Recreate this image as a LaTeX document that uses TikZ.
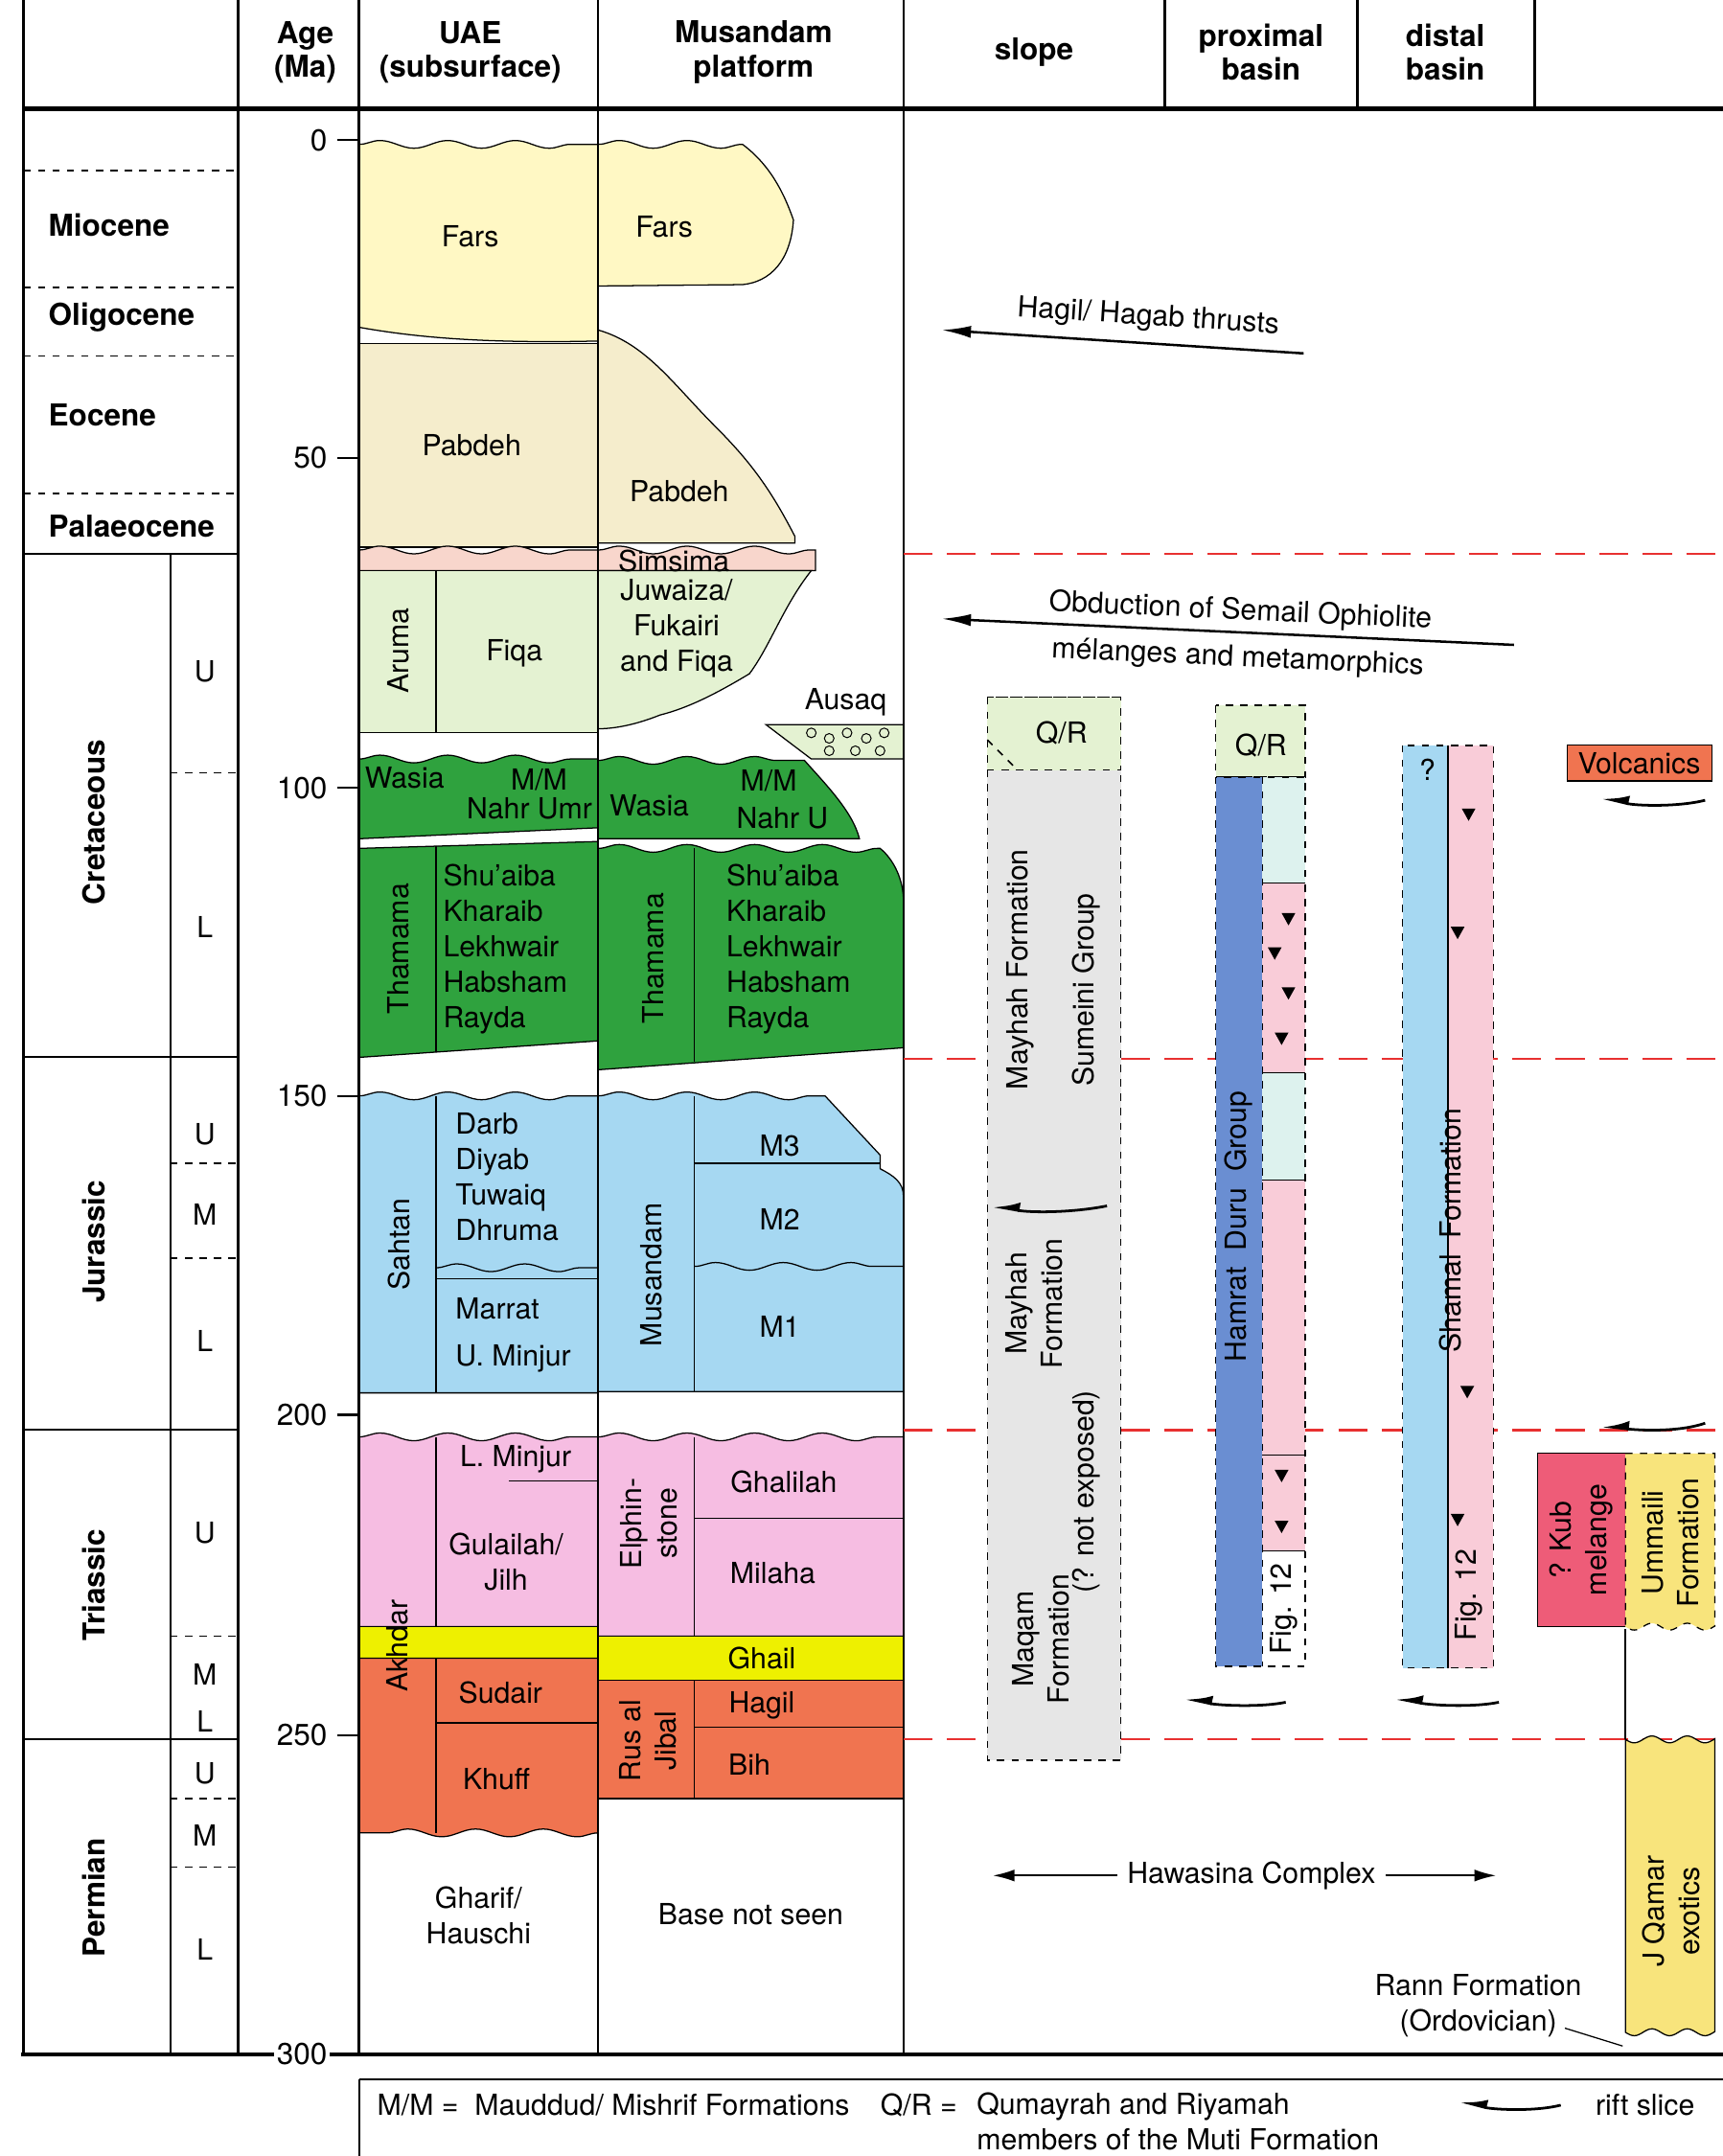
\documentclass[tikz,border=0pt]{standalone}
\usepackage{fontspec}
\setmainfont{TeX Gyre Heros}
\usetikzlibrary{decorations.pathmorphing,arrows.meta}
\definecolor{fars}{HTML}{FFF8C4}
\definecolor{pab}{HTML}{F5EDCC}
\definecolor{sims}{HTML}{F8D6CC}
\definecolor{lgr}{HTML}{E4F2D2}
\definecolor{dgr}{HTML}{2FA23E}
\definecolor{blu}{HTML}{A6D8F2}
\definecolor{pnk}{HTML}{F6BDE2}
\definecolor{yel}{HTML}{EEF000}
\definecolor{org}{HTML}{F07450}
\definecolor{gry}{HTML}{E6E6E6}
\definecolor{cyn}{HTML}{DDF2EE}
\definecolor{pk2}{HTML}{F9CCD8}
\definecolor{hblue}{HTML}{6A8ED2}
\definecolor{kub}{HTML}{EE5C78}
\definecolor{umm}{HTML}{F8E47C}
\definecolor{red}{HTML}{E83030}
\tikzset{x=0.02cm,y=-0.02cm,
 t/.style={font=\fontsize{12}{14.7}\selectfont,inner sep=0pt,align=center},
 tb/.style={t,font=\fontsize{12.5}{14}\selectfont\bfseries},
 rot/.style={t,rotate=90},
 wv/.style={decorate,decoration={snake,amplitude=1.6,segment length=28}},
 rd/.style={red,dashed,dash pattern=on 12pt off 6pt,line width=0.9pt},
 rift/.style={-{Latex[right,length=9pt,width=7pt]},line width=1.1pt},
 bx/.style={line width=0.5pt}}
\begin{document}
\begin{tikzpicture}
\useasboundingbox (0,0) rectangle (1253,1568);
% ---------------- UAE column
\path[fill=fars,draw,bx] decorate[wv]{(261,105)--(435,105)} -- (435,248) .. controls (350,250) and (300,245) .. (261,238) -- cycle;
\path[fill=pab,draw,bx] (261,250)--(435,250)--(435,398)--(261,398)--cycle;
\path[fill=sims,draw,bx] decorate[wv]{(261,400)--(435,400)} -- (435,415)--(261,415)--cycle;
\path[fill=lgr,draw,bx] (261,415) rectangle (435,533);
\draw[bx] (317,415)--(317,533);
\path[fill=dgr,draw,bx] decorate[wv]{(261,552)--(435,552)} -- (435,602)--(261,610)--cycle;
\path[fill=dgr,draw,bx] (261,617)--(435,612)--(435,757)--(261,769)--cycle;
\draw[bx] (317,615)--(317,765);
\path[fill=blu,draw,bx] decorate[wv]{(261,797)--(435,797)} -- (435,1013)--(261,1013)--cycle;
\draw[bx] (317,797)--(317,1013);
\draw[bx] decorate[wv]{(317,922)--(435,922)};
\draw[bx] (317,930)--(435,930);
\path[fill=pnk,draw,bx] decorate[wv]{(261,1045)--(435,1045)} -- (435,1183)--(261,1183)--cycle;
\draw[bx] (317,1045)--(317,1183) (370,1077)--(435,1077);
\path[fill=yel,draw,bx] (261,1183) rectangle (435,1206);
\path[fill=org,draw,bx] decorate[wv]{(435,1333)--(261,1333)} -- (261,1206)--(435,1206)--cycle;
\draw[bx] (317,1206)--(317,1333) (317,1253)--(435,1253);
\node[t] (fars1) at (342,172) {Fars};
\node[t] (pab1) at (343,324) {Pabdeh};
\node[rot] (aru) at (290,473) {Aruma};
\node[t] (fiqa) at (374,475) {Fiqa};
\node[t,anchor=west] (wasia1) at (265,566) {Wasia};
\node[t] (mm1) at (392,567) {M/M};
\node[t,anchor=east] (nu1) at (431,588) {Nahr Umr};
\node[rot] (tham1) at (290,690) {Thamama};
\node[t,anchor=west,align=left] (sh1) at (322,690) {Shu'aiba\\Kharaib\\Lekhwair\\Habsham\\Rayda};
\node[rot] (saht) at (290,905) {Sahtan};
\node[t,anchor=west,align=left] (darb) at (331,856) {Darb\\Diyab\\Tuwaiq\\Dhruma};
\node[t,anchor=west,align=left] (marr) at (331,971) {Marrat\\[5pt]U. Minjur};
\node[t] (lmin) at (375,1061) {L. Minjur};
\node[t] (gul) at (368,1136) {Gulailah/\\Jilh};
\node[rot] (akh) at (289,1197) {Akhdar};
\node[t] (sud) at (364,1231) {Sudair};
\node[t] (khuff) at (361,1294) {Khuff};
\node[t] (gha) at (348,1393) {Gharif/\\Hauschi};
% ---------------- Musandam column
\path[fill=fars,draw,bx] decorate[wv]{(435,105)--(540,105)} .. controls (560,120) and (570,140) .. (577,160) .. controls (575,190) and (560,205) .. (540,207) -- (435,208) -- cycle;
\path[fill=pab,draw,bx] (435,240) .. controls (470,250) and (490,280) .. (520,310) .. controls (545,335) and (560,355) .. (578,390) -- (578,395) -- (435,395) -- cycle;
\path[fill=sims,draw,bx] decorate[wv]{(435,400)--(593,400)} -- (593,415)--(435,415)--cycle;
\path[fill=lgr,draw,bx] (435,415) -- (590,415) .. controls (570,440) and (560,470) .. (545,490) .. controls (520,505) and (500,515) .. (480,520) .. controls (460,528) and (445,530) .. (435,530) -- cycle;
\path[fill=lgr,draw,bx] (557,527) -- (657,527) -- (657,552) -- (590,552) -- cycle;
\foreach \px/\py in {590/533, 603/537, 616/533, 630/537, 643/533, 603/546, 622/546, 640/546}
 \draw[line width=0.4pt] (\px,\py) circle (3.5);
\path[fill=dgr,draw,bx] decorate[wv]{(435,553)--(585,553)} .. controls (600,570) and (620,590) .. (625,610) -- (435,610) -- cycle;
\path[fill=dgr,draw,bx] decorate[wv]{(435,617)--(640,617)} .. controls (650,625) and (657,640) .. (657,655) -- (657,762) -- (435,778) -- cycle;
\draw[bx] (505,617)--(505,772);
\path[fill=blu,draw,bx] decorate[wv]{(435,797)--(600,797)} -- (640,840) -- (640,850) .. controls (650,855) and (657,860) .. (657,870) -- (657,1012) -- (435,1012) -- cycle;
\draw[bx] (505,797)--(505,1012) (505,846)--(640,846);
\draw[bx] decorate[wv]{(505,921)--(657,921)};
\path[fill=pnk,draw,bx] decorate[wv]{(435,1045)--(657,1045)} -- (657,1190)--(435,1190)--cycle;
\draw[bx] (505,1045)--(505,1190) (505,1104)--(657,1104);
\path[fill=yel,draw,bx] (435,1190) rectangle (657,1222);
\path[fill=org,draw,bx] (435,1222) rectangle (657,1308);
\draw[bx] (505,1222)--(505,1308) (505,1256)--(657,1256);
\node[t] (fars2) at (483,165) {Fars};
\node[t] (pab2) at (494,357) {Pabdeh};
\node[t] (sims) at (490,408) {Simsima};
\node[t] (juw) at (492,457) {Juwaiza/\\Fukairi\\and Fiqa};
\node[t] (aus) at (615,511) {Ausaq};
\node[t,anchor=west] (wasia2) at (443,586) {Wasia};
\node[t] (mm2) at (559,568) {M/M};
\node[t] (nu2) at (569,595) {Nahr U};
\node[rot] (tham2) at (475,697) {Thamama};
\node[t,anchor=west,align=left] (sh2) at (528,690) {Shu'aiba\\Kharaib\\Lekhwair\\Habsham\\Rayda};
\node[rot] (mus) at (474,927) {Musandam};
\node[t] (m3) at (567,833) {M3};
\node[t] (m2) at (567,887) {M2};
\node[t] (m1) at (567,965) {M1};
\node[rot] (elph) at (472,1108) {Elphin-\\stone};
\node[t] (ghal) at (570,1078) {Ghalilah};
\node[t] (mil) at (562,1144) {Milaha};
\node[t] (ghail) at (554,1206) {Ghail};
\node[t] (hagil) at (554,1240) {Hagil};
\node[rot] (rus) at (471,1266) {Rus al\\Jibal};
\node[t] (bih) at (545,1283) {Bih};
\node[t] (bns) at (546,1392) {Base not seen};
% ---------------- frame
\draw[line width=1pt] (17,0)--(17,1494) (173,0)--(173,1494) (261,0)--(261,1494) (435,0)--(435,1494) (657,0)--(657,1494);
\draw[line width=1pt] (847,0)--(847,78) (987,0)--(987,78) (1116,0)--(1116,78);
\draw[line width=1.8pt] (17,79)--(1253,79);
\draw[line width=1.8pt] (15,1494)--(1253,1494);
\draw[line width=0.8pt] (261,1512)--(1253,1512) (261,1512)--(261,1568);
\node[tb] (h1) at (222,38) {Age\\(Ma)};
\node[tb] (h2) at (342,38) {UAE\\(subsurface)};
\node[tb] (h3) at (548,38) {Musandam\\platform};
\node[tb] (h4) at (752,38) {slope};
\node[tb] (h5) at (917,38) {proximal\\basin};
\node[tb] (h6) at (1051,38) {distal\\basin};
% age scale
\foreach \a/\yy in {0/102,50/333,100/573,150/797,200/1029,250/1262,300/1494}{
 \draw[line width=0.9pt] (245,\yy)--(261,\yy);
 \node[t,anchor=east,font=\fontsize{12.5}{15}\selectfont,fill=white,inner sep=1pt] at (240,\yy) {\a};}
% epochs
\draw[dashed,line width=0.6pt] (17,124)--(173,124) (17,209)--(173,209) (17,259)--(173,259) (17,359)--(173,359);
\draw[line width=0.8pt] (17,403)--(173,403) (17,769)--(173,769) (17,1040)--(173,1040) (17,1265)--(173,1265);
\draw[line width=0.8pt] (124,403)--(124,1494);
\draw[dashed,line width=0.6pt] (124,562)--(173,562) (124,846)--(173,846) (124,915)--(173,915) (124,1190)--(173,1190) (124,1265)--(173,1265) (124,1308)--(173,1308) (124,1358)--(173,1358);
\node[tb,anchor=west] (mio) at (35,164) {Miocene};
\node[tb,anchor=west] (oli) at (35,231) {Oligocene};
\node[tb,anchor=west] (eoc) at (35,302) {Eocene};
\node[tb,anchor=west] (pal) at (35,383) {Palaeocene};
\node[tb,rotate=90] (cre) at (68,598) {Cretaceous};
\node[tb,rotate=90] (jur) at (68,903) {Jurassic};
\node[tb,rotate=90] (tri) at (68,1153) {Triassic};
\node[tb,rotate=90] (per) at (68,1380) {Permian};
\foreach \s/\yy in {U/488,L/674,U/825,M/883,L/975,U/1115,M/1218,L/1252,U/1290,M/1335,L/1418}
 \node[t,fill=white,inner sep=1pt] at (149,\yy) {\s};
% red dashed lines
\foreach \yy in {403,770,1040,1265} \draw[rd] (657,\yy)--(1253,\yy);
% slope column
\path[fill=gry,draw,dashed,line width=0.6pt] (718,507) rectangle (815,1280);
\path[fill=lgr,draw,dashed,line width=0.6pt] (718,507) rectangle (815,560);
\draw[dashed,line width=0.6pt] (718,538)--(738,558);
\node[t] (qr1) at (772,533) {Q/R};
\node[rot] (may1) at (742,705) {Mayhah Formation};
\node[rot] (sum) at (790,720) {Sumeini Group};
\node[rot] (may2) at (752,948) {Mayhah\\Formation};
\node[rot] (notexp) at (790,1085) {(? not exposed)};
\node[rot] (maq) at (757,1192) {Maqam\\Formation};
\coordinate (rs1a) at (805,877); \coordinate (rs1b) at (722,877);
\draw[rift] (rs1a) .. controls (780,882) and (750,882) .. (rs1b);
% proximal basin
\path[fill=lgr,draw,dashed,line width=0.6pt] (884,513) rectangle (949,565);
\node[t] (qr2) at (917,542) {Q/R};
\fill[hblue] (884,565) rectangle (918,1212);
\fill[cyn] (918,565) rectangle (949,642);
\fill[pk2] (918,642) rectangle (949,780);
\fill[cyn] (918,780) rectangle (949,858);
\fill[pk2] (918,858) rectangle (949,1058);
\fill[pk2] (918,1058) rectangle (949,1128);
\draw[line width=0.5pt] (918,642)--(949,642) (918,780)--(949,780) (918,858)--(949,858) (918,1058)--(949,1058) (918,1128)--(949,1128);
\draw[dashed,line width=0.6pt] (884,565) rectangle (949,1212) (918,565)--(918,1212);
\node[rot,text=black] (hd) at (901,892) {Hamrat\ \ Duru\ \ Group};
\node[rot] (f12a) at (934,1170) {Fig. 12};
\foreach \px/\py in {937/668, 927/693, 937/722, 932/755, 932/1073, 932/1110}
 \fill (\px-5,\py-4)--(\px+5,\py-4)--(\px,\py+5)--cycle;
\coordinate (rs2a) at (935,1238); \coordinate (rs2b) at (862,1235);
\draw[rift] (rs2a) .. controls (915,1242) and (885,1240) .. (rs2b);
% distal basin
\fill[blu] (1020,542) rectangle (1053,1213);
\fill[pk2] (1053,542) rectangle (1086,1213);
\draw[dashed,line width=0.6pt] (1020,542) rectangle (1086,1213);
\draw[line width=0.5pt] (1053,542)--(1053,1213);
\node[t] (q) at (1038,560) {?};
\node[rot] (sham) at (1055,895) {Shamal\ \ Formation};
\node[rot] (f12b) at (1068,1160) {Fig. 12};
\foreach \px/\py in {1068/592, 1060/678, 1067/1012, 1060/1105}
 \fill (\px-5,\py-4)--(\px+5,\py-4)--(\px,\py+5)--cycle;
\coordinate (rs3a) at (1090,1238); \coordinate (rs3b) at (1015,1235);
\draw[rift] (rs3a) .. controls (1070,1242) and (1040,1240) .. (rs3b);
% right column
\path[fill=org,draw,line width=0.5pt] (1140,542) rectangle (1245,568);
\node[t] (volc) at (1192,555) {Volcanics};
\coordinate (rs4a) at (1240,582); \coordinate (rs4b) at (1165,580);
\draw[rift] (rs4a) .. controls (1220,587) and (1190,586) .. (rs4b);
\coordinate (rs5a) at (1240,1035); \coordinate (rs5b) at (1165,1037);
\draw[rift] (rs5a) .. controls (1220,1042) and (1190,1040) .. (rs5b);
\path[fill=kub,draw,line width=0.5pt] (1118,1057) rectangle (1182,1183);
\path[fill=umm,draw,dashed,line width=0.5pt] (1182,1057)--(1247,1057)--(1247,1183)-- plot[domain=65:0,samples=40] ({1182+\x},{1183+2.5*sin(\x*14)}) --cycle;
\node[rot] (kubt) at (1150,1120) {? Kub\\melange};
\node[rot] (ummt) at (1215,1122) {Ummaili\\Formation};
\draw[line width=0.6pt] (1182,1185)--(1182,1265);
\path[fill=umm,draw,line width=0.5pt] plot[domain=0:65,samples=40] ({1182+\x},{1265+2.5*sin(\x*14)}) -- plot[domain=65:0,samples=40] ({1182+\x},{1478+2.5*sin(\x*14)}) -- cycle;
\node[rot] (jq) at (1215,1390) {J Qamar\\exotics};
% thrust arrows
\coordinate (ta) at (948,257); \coordinate (tb) at (685,240);
\draw[-{Latex[length=12pt,width=5pt]},line width=1pt] (ta)--(tb);
\node[t,rotate=-3.7] (hag) at (835,231) {Hagil/ Hagab thrusts};
\coordinate (oa) at (1101,469); \coordinate (ob) at (685,450);
\draw[-{Latex[length=12pt,width=5pt]},line width=1pt] (oa)--(ob);
\node[t,rotate=-2.6] (obd) at (902,445) {Obduction of Semail Ophiolite};
\node[t,rotate=-2.6] (mel) at (900,479) {mélanges and metamorphics};
% Hawasina
\node[t] (haw) at (910,1364) {Hawasina Complex};
\coordinate (hl) at (722,1364); \coordinate (hr) at (1088,1364);
\draw[-{Latex[length=9pt,width=5pt]},line width=0.8pt] ([xshift=-4pt]haw.west)--(hl);
\draw[-{Latex[length=9pt,width=5pt]},line width=0.8pt] ([xshift=4pt]haw.east)--(hr);
\node[t] (rann) at (1075,1459) {Rann Formation\\(Ordovician)};
\coordinate (rannend) at (1180,1488);
\draw[line width=0.5pt] (1138,1475)--(rannend);
% legend
\node[t,anchor=west] (l1) at (274,1531) {M/M =\ \ Mauddud/ Mishrif Formations};
\node[t,anchor=west] (l2) at (640,1531) {Q/R =};
\node[t,anchor=west,align=left] (l3) at (710,1543) {Qumayrah and Riyamah\\members of the Muti Formation};
\coordinate (lra) at (1135,1531); \coordinate (lrb) at (1062,1528);
\draw[rift] (lra) .. controls (1115,1536) and (1085,1534) .. (lrb);
\node[t,anchor=west] (l4) at (1160,1531) {rift slice};
\end{tikzpicture}
\end{document}
